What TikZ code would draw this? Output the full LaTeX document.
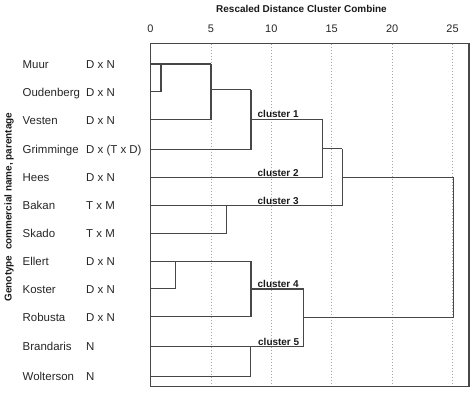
\documentclass[tikz,border=0pt]{standalone}
\usepackage{fontspec}
\setmainfont{Liberation Sans}
\begin{document}
\begin{tikzpicture}[x=1bp,y=-1bp,
  dline/.style={draw=black!72, line width=1.1bp, line cap=butt, line join=miter},
  gridline/.style={draw=black!35, line width=0.6bp, dash pattern=on 1.5bp off 1.5bp},
  framebox/.style={draw=black!72, line width=1.1bp},
  leafname/.style={anchor=base west, inner sep=0pt, text=black!85, font=\fontsize{11.5}{13}\selectfont},
  tick/.style={anchor=base, inner sep=0pt, text=black!85, font=\fontsize{11}{13}\selectfont},
  clab/.style={anchor=base west, inner sep=0pt, text=black!90, font=\bfseries\fontsize{10}{12}\selectfont},
  ttl/.style={anchor=base, inner sep=0pt, text=black!90, font=\bfseries\fontsize{10}{12}\selectfont}]
\useasboundingbox (0,0) rectangle (474,392);
% grid
\foreach \v in {5,10,15,20,25}{
  \draw[gridline] ({150.5+12.08*\v},43.7) -- ({150.5+12.08*\v},386.7);
}
% frame
\draw[framebox] (150.5,43.7) rectangle (469,386.7);
% tick labels
\foreach \v in {0,5,10,15,20,25}{
  \node[tick] (t\v) at ({150.5+12.08*\v},32.7) {\v};
}
\node[ttl] (title) at (301.5,12.5) {Rescaled Distance Cluster Combine};
\node[rotate=90, anchor=base, inner sep=0pt, text=black!90, font=\bfseries\fontsize{10}{12}\selectfont] (ylab) at (11.5,207) {Genotype\ \ commercial name, parentage};
% leaf labels
\foreach \n/\p/\y [count=\i] in {Muur/D x N/64, Oudenberg/D x N/92, Vesten/D x N/120, Grimminge/D x (T x D)/149.3, Hees/D x N/177.5, Bakan/T x M/205.7, Skado/T x M/233.7, Ellert/D x N/261.5, Koster/D x N/289, Robusta/D x N/317.5, Brandaris/N/346.7, Wolterson/N/376}{
  \node[leafname] (n\i) at (22.5,\y+4.1) {\n};
  \node[leafname] (p\i) at (86,\y+4.1) {\p};
}
% dendrogram
\draw[dline] (150.5,64) -- (211,64);
\draw[dline] (150.5,91.7) -- (161,91.7) -- (161,64);
\draw[dline] (150.5,119.3) -- (211,119.3) -- (211,64);
\draw[dline] (211,89.5) -- (251,89.5);
\draw[dline] (150.5,149.5) -- (251,149.5) -- (251,89.5);
\draw[dline] (251,119.3) -- (322.3,119.3);
\draw[dline] (150.5,177.7) -- (322.3,177.7) -- (322.3,119.3);
\draw[dline] (322.3,148.7) -- (342.3,148.7);
\draw[dline] (150.5,205.8) -- (342.3,205.8) -- (342.3,148.7);
\draw[dline] (150.5,233.8) -- (226.5,233.8) -- (226.5,205.8);
\draw[dline] (342.3,177.7) -- (453.3,177.7) -- (453.3,317.7);
\draw[dline] (150.5,261.3) -- (251,261.3);
\draw[dline] (150.5,288.7) -- (175.7,288.7) -- (175.7,261.3);
\draw[dline] (150.5,316.5) -- (251,316.5) -- (251,261.3);
\draw[dline] (251,289) -- (303.5,289);
\draw[dline] (150.5,346.7) -- (303.5,346.7) -- (303.5,289);
\draw[dline] (150.5,376.7) -- (250.7,376.7) -- (250.7,346.7);
\draw[dline] (303.5,317.7) -- (453.3,317.7);
% cluster labels
\node[clab] (c1) at (257.5,117.8) {cluster 1};
\node[clab] (c2) at (257.5,176.2) {cluster 2};
\node[clab] (c3) at (257.5,204.3) {cluster 3};
\node[clab] (c4) at (257.5,287.5) {cluster 4};
\node[clab] (c5) at (258,345.2) {cluster 5};
\end{tikzpicture}
\end{document}
